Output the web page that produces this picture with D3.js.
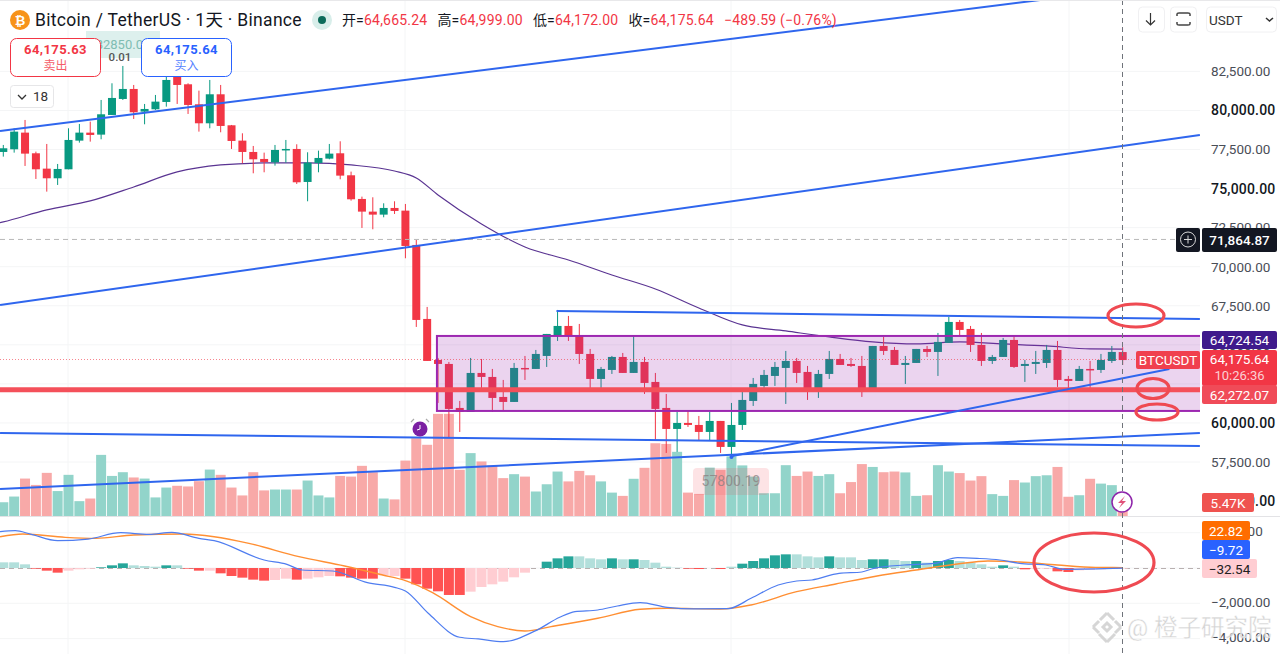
<!DOCTYPE html>
<html><head><meta charset="utf-8">
<script src="https://cdnjs.cloudflare.com/ajax/libs/d3/7.8.5/d3.min.js"></script>
<style>html,body{margin:0;padding:0;background:#fff;overflow:hidden}svg{display:block}text{font-family:Roboto,"Noto Sans CJK SC",sans-serif}</style>
</head><body><svg id="c" width="1280" height="654"></svg>
<script>
const opens=[77344,77515,78581,77259,76277,75659,76235,78069,78581,78453,
79712,80736,81376,79925,80075,80544,82165,81675,80395,79179,
81035,79051,78069,77344,76896,76683,77451,77536,75424,76640,
76917,77259,75851,74336,73525,73333,73760,73589,71392,66656,
64032,63776,60960,60704,63200,62944,61664,61344,63520,63456,
64288,65568,66208,65568,64416,62816,63392,64224,63200,63904,
62624,60960,59616,60000,59872,59424,60128,58464,59872,61408,
62368,63008,63520,63968,63264,62112,63136,64096,63776,63648,
62176,64928,64672,63712,63840,64736,64544,65120,66464,66016,
64992,63968,64224,65312,63648,63776,63840,64672,62816,62688,
63456,63392,63968,64537];
const closes=[77579,78645,77237,76235,75659,76256,78112,78581,78432,79755,
80800,81376,79883,80096,80565,81952,81632,80352,79179,81035,
79008,78048,77344,76875,76704,77472,77536,75403,76661,76960,
77237,75829,74315,73525,73333,73760,73568,71328,66592,63968,
63776,60896,60704,63200,62944,61600,61344,63520,63456,64416,
65696,66208,65568,64416,62816,63456,64224,63200,63904,62560,
60896,59616,60000,59872,59424,60128,58464,59872,61472,62496,
63072,63584,63968,63200,62112,63136,64096,63712,63648,62176,
64928,64608,63712,63840,64736,64544,65184,66464,65952,64992,
63968,64224,65312,63584,63776,63904,64672,62752,62688,63456,
63392,64032,64544,64025];
const highs=[77792,78859,79392,77365,77856,76576,78859,79136,79285,80672,
81739,82848,81632,80416,80992,82272,82272,81739,81269,81952,
81632,79072,78539,77728,77301,77792,78112,77835,77323,77429,
77856,78027,76085,74485,74443,74059,74187,74016,71712,67424,
64160,63904,61408,64160,64096,63456,62752,63840,64288,64672,
65696,67232,66848,66336,64736,63584,64288,64480,65568,64224,
63200,61856,60704,60768,60448,60704,60128,61280,62112,62880,
63392,63904,64608,64160,63648,63392,64608,64416,64160,64288,
64928,65504,64864,64288,64736,64928,65760,66784,66592,66208,
65760,64352,65440,65568,64032,64608,64992,65248,63008,63648,
63968,64416,64928,64850];
const lows=[77045,77301,76448,75616,74805,75232,76235,77941,78005,78155,
79712,80672,79456,79115,80032,80245,80416,79776,78645,78859,
78603,77536,76619,75979,76043,76469,76661,75296,74187,76043,
76875,75595,74229,72480,72395,73163,73376,70539,66144,63968,
61280,59040,59424,60704,62240,60704,60768,61344,62752,63456,
63584,65248,65248,63776,62112,62176,63136,63200,63200,61856,
58912,58080,58144,59744,58848,58848,58080,57824,59552,61088,
62240,62368,61216,62560,61472,61600,62816,63712,63584,61664,
62176,64352,63712,62496,63840,64224,63008,65120,65568,64544,
63648,63776,64224,63520,62624,63136,63520,62304,62176,62688,
62240,63200,63840,63710];
const volumes=[6.5,9.1,17.3,14.4,19.9,11.6,19.0,7.0,8.2,28.1,
18.5,20.2,17.8,17.3,8.7,13.2,14.0,13.7,16.1,21.4,
19.0,13.2,9.6,20.2,11.9,12.3,12.3,12.3,16.4,9.6,
8.7,18.5,18.2,23.1,20.2,8.2,7.8,25.5,35.7,32.7,
46.8,46.8,21.3,28.9,25.1,23.3,17.5,19.3,18.2,11.4,
14.7,20.5,16.0,20.8,18.8,16.0,10.9,9.4,17.2,22.2,
33.4,33.1,29.5,10.9,10.3,22.3,21.3,27.4,23.3,18.2,
10.6,10.6,23.4,18.5,20.5,18.5,19.3,10.6,15.7,23.9,
22.6,20.2,20.5,20.1,9.4,9.7,23.4,20.5,19.8,16.4,
18.4,10.2,9.4,16.6,15.5,18.4,18.8,22.6,9.0,9.7,
17.2,15.0,14.3,5.47];
const maIndex=[-1,0,4,8,12,16,20,24,28,32,36,38,40,44,48,52,56,60,64,68,72,76,80,84,88,92,96,100,103];
const maValues=[72700,72864,73632,74208,75104,76064,76512,76640,76640,76512,76128,75680,74592,72736,71264,70432,69472,68576,67360,66272,65888,65504,65184,65056,65184,65056,64928,64736,64724.54];
const macdIndex=[-0.3,1.1,2.5,5,7.8,10.8,13.4,15.5,18,19.4,24,26.1,27.5,30.3,33.5,36,37,39.1,42,43.7,46,49,51.2,52.6,54.7,56.5,58.6,61.1,63.5,66.7,68.8,71.3,73,74.4,76.9,79,80.1,82.9,85.7,87.8,89.6,91.7,93.5,95.9,97.7,103];
const macdValues=[2056,2113,1924,1547,1641,2000,1906,2019,1679,1547,452,207,-114,-170,-831,-1095,-1302,-2567,-3925,-4020,-4171,-3548,-2793,-2472,-2378,-2152,-1963,-2227,-2321,-2303,-1718,-963,-736,-680,-302,-227,-19,170,264,585,547,453,264,170,-76,-9.72];
const signalIndex=[-0.3,1.8,5.7,8.5,12,16.6,19.4,22.6,27.2,31.4,34.9,37,39.5,43,45.5,48,50.4,54.7,58.6,61.1,66,68.8,73,76.6,80.4,84,87.8,90.6,93.5,97,100.5,103];
const signalValues=[1773,1924,1736,1679,1868,1924,1773,1396,641,113,-397,-717,-1397,-2755,-3321,-3567,-3321,-2850,-2340,-2284,-2321,-2095,-1340,-906,-453,-114,226,396,339,170,37,22.82];
const histValues=[321,321,208,-38,-151,-264,-151,-75,-38,38,151,264,151,113,75,151,151,-38,-151,-151,-302,-453,-547,-660,-717,-679,-604,-660,-604,-528,-453,-472,-547,-604,-604,-415,-453,-604,-925,-1170,-1321,-1528,-1528,-1340,-1076,-925,-774,-528,-264,0,358,547,660,660,547,491,547,491,491,453,302,75,19,-38,-57,0,-57,75,245,396,547,717,774,774,660,604,660,604,604,453,491,491,453,396,396,302,396,453,396,302,208,75,151,75,-75,-38,-38,-189,-226,-132,-113,-75,-38,-32.54];
const histStrong=[0,0,0,1,1,1,0,0,0,1,1,1,0,0,0,1,0,1,1,0,1,1,1,1,1,0,0,1,0,0,0,1,1,1,1,0,0,1,1,1,1,1,1,0,0,0,0,0,0,1,1,1,1,0,0,0,1,0,1,0,0,0,0,1,1,0,1,0,1,1,1,1,1,0,0,0,1,0,0,0,1,1,0,0,1,0,1,1,0,0,0,0,1,0,1,0,0,1,1,0,0,0,0,0];
const priceTicks=[82500,80000,77500,75000,72500,70000,67500,65000,62500,60000,57500,55000];
const strongTicks=[80000,75000,60000,55000];
const macdTicks=[2000,-2000,-4000];
const supportLevel=62130, dottedLevel=64060, alertLevel=71744;
const boxTop=65568, boxBottom=60768, boxStart=39.9, boxEnd=112;
const trendLines=[[-0.3,78688,95.4,87072],[-0.3,67552,110.1,78432],[50.9,67168,110.1,66656],[-0.3,59360,110.1,58528],[-0.3,55776,110.1,59360],[67.1,57888,107.3,63456]];
const headerPairs=[["开=","64,665.24"],["高=","64,999.00"],["低=","64,172.00"],["收=","64,175.64"]];

const svg=d3.select("#c");
const RED="#f23645",GRN="#089981",BLUE="#2f66ee";
const x=d3.scaleLinear().domain([0,103]).range([3.3,1122.7]);
const y=d3.scaleLinear().domain([57500,82500]).range([462,71.4]);
const yVol=d3.scaleLinear().domain([0,100]).range([516.5,297.2]);
const yM=d3.scaleLinear().domain([-4000,2000]).range([638.6,532.7]);
const defs=svg.append("defs");
defs.append("clipPath").attr("id","main").append("rect").attr("width",1200).attr("height",516);
defs.append("clipPath").attr("id","macd").append("rect").attr("y",517).attr("width",1200).attr("height",137);

// grid
const grid=svg.append("g").attr("stroke","#f4f5f6").attr("stroke-width",1);
priceTicks.slice(0,-1).forEach(t=>grid.append("line").attr("x1",0).attr("x2",1200).attr("y1",y(t)).attr("y2",y(t)));
[2000,0,-2000,-4000].forEach(t=>grid.append("line").attr("x1",0).attr("x2",1200).attr("y1",yM(t)).attr("y2",yM(t)));
[68,405,731,1069].forEach(v=>grid.append("line").attr("x1",v).attr("x2",v).attr("y1",0).attr("y2",654));

const main=svg.append("g").attr("clip-path","url(#main)");
const idx=d3.range(opens.length);
// volume
main.append("g").selectAll("rect").data(idx).join("rect")
 .attr("x",i=>x(i)-5).attr("width",10).attr("y",i=>yVol(volumes[i])).attr("height",i=>yVol(0)-yVol(volumes[i]))
 .attr("fill",i=>closes[i]>=opens[i]?"#92d4ca":"#f8a9a8");
// faded low label
main.append("rect").attr("x",693).attr("y",468).attr("width",76).attr("height",27).attr("rx",4).attr("fill",RED).attr("opacity",.14);
main.append("text").attr("x",731).attr("y",486).attr("text-anchor","middle").attr("font-size",14).attr("fill","#8a7f80").attr("opacity",.75).text("57800.19");
// MA
main.append("path").attr("fill","none").attr("stroke","#5a3492").attr("stroke-width",1.2)
 .attr("d",d3.line().curve(d3.curveMonotoneX).x((d,i)=>x(maIndex[i])).y(d=>y(d))(maValues));
// candles
const cg=main.append("g");
cg.selectAll("line").data(idx).join("line").attr("x1",i=>x(i)).attr("x2",i=>x(i)).attr("y1",i=>y(highs[i])).attr("y2",i=>y(lows[i]))
 .attr("stroke",i=>closes[i]>=opens[i]?GRN:RED).attr("stroke-width",1);
cg.selectAll("rect").data(idx).join("rect").attr("x",i=>x(i)-4).attr("width",8)
 .attr("y",i=>y(Math.max(opens[i],closes[i]))).attr("height",i=>Math.max(1.5,Math.abs(y(opens[i])-y(closes[i]))))
 .attr("fill",i=>closes[i]>=opens[i]?GRN:RED);
// box
main.append("rect").attr("x",x(boxStart)).attr("width",x(boxEnd)-x(boxStart)).attr("y",y(boxTop)).attr("height",y(boxBottom)-y(boxTop))
 .attr("fill","#9c27b0").attr("fill-opacity",.2).attr("stroke","#9c27b0").attr("stroke-width",2);
// support
main.append("line").attr("x1",0).attr("x2",1200).attr("y1",y(supportLevel)).attr("y2",y(supportLevel)).attr("stroke","#f4505a").attr("stroke-width",5);
// dotted current
main.append("line").attr("x1",0).attr("x2",1200).attr("y1",y(dottedLevel)).attr("y2",y(dottedLevel)).attr("stroke",RED).attr("stroke-opacity",.6).attr("stroke-dasharray","1 2");
// alert dashed
main.append("line").attr("x1",0).attr("x2",1200).attr("y1",y(alertLevel)).attr("y2",y(alertLevel)).attr("stroke","#b8b8b8").attr("stroke-dasharray","5 4");
// trend lines
main.append("g").selectAll("line").data(trendLines).join("line")
 .attr("x1",d=>x(d[0])).attr("y1",d=>y(d[1])).attr("x2",d=>x(d[2])).attr("y2",d=>y(d[3]))
 .attr("stroke",BLUE).attr("stroke-width",2);
main.append("circle").attr("cx",x(67)).attr("cy",y(57824)).attr("r",2).attr("fill",BLUE);

// MACD
const mp=svg.append("g").attr("clip-path","url(#macd)");
mp.append("line").attr("x1",0).attr("x2",1200).attr("y1",yM(0)+.5).attr("y2",yM(0)+.5).attr("stroke","#b8b0b0").attr("stroke-dasharray","5 4");
mp.append("g").selectAll("rect").data(histValues).join("rect")
 .attr("x",(d,i)=>x(i)-5).attr("width",10)
 .attr("y",d=>Math.min(yM(d),yM(0))).attr("height",d=>Math.abs(yM(d)-yM(0)))
 .attr("fill",(d,i)=>d>=0?(histStrong[i]?"#26a69a":"#b2dfdb"):(histStrong[i]?"#ff5252":"#ffcdd2"));
const ln=(X,V)=>d3.line().curve(d3.curveMonotoneX).x((d,i)=>x(X[i])).y(d=>yM(d))(V);
mp.append("path").attr("fill","none").attr("stroke","#ff8f33").attr("stroke-width",1.4).attr("d",ln(signalIndex,signalValues));
mp.append("path").attr("fill","none").attr("stroke","#4f7df0").attr("stroke-width",1.2).attr("d",ln(macdIndex,macdValues));

// pane separator
svg.append("line").attr("x1",0).attr("x2",1280).attr("y1",516.5).attr("y2",516.5).attr("stroke","#e3e3e6");
// crosshair
svg.append("line").attr("x1",1122.5).attr("x2",1122.5).attr("y1",0).attr("y2",654).attr("stroke","#6f737a").attr("stroke-dasharray","5 4");

// red hand-drawn ellipses
const ell=svg.append("g").attr("fill","none").attr("stroke","#ef4a52").attr("stroke-width",3.2);
[[1136,315.5,28,11.5],[1153,388.5,16,10],[1157,412,21,8],[1094,562.5,60,29.5]].forEach(e=>
 ell.append("ellipse").attr("cx",e[0]).attr("cy",e[1]).attr("rx",e[2]).attr("ry",e[3]));

// alarm icon
const al=svg.append("g").attr("transform","translate(420,429)");
al.append("circle").attr("r",7.5).attr("fill","#7b1fa2");
al.append("path").attr("d","M0-4V0L-3 1").attr("stroke","#fff").attr("fill","none");
al.append("path").attr("d","M-9-7L-6-10M9-7L6-10").attr("stroke","#aaa").attr("stroke-width",1.2);
// bolt icon
const bo=svg.append("g").attr("transform","translate(1122,502)");
bo.append("circle").attr("r",10).attr("fill","#fff").attr("stroke","#8e24aa").attr("stroke-width",1.5);
bo.append("path").attr("d","M3-6L-4 1H0L-3 6L4-1H0Z").attr("fill","#e0527a");

// axes
const ax=svg.append("g").attr("transform","translate(1200,0)")
 .call(d3.axisRight(y).tickValues(priceTicks).tickSize(0).tickPadding(11).tickFormat(d3.format(",.2f")));
ax.select(".domain").remove();
ax.selectAll("text").attr("font-size",d=>strongTicks.includes(d)?14:13.5).attr("fill",d=>strongTicks.includes(d)?"#131722":"#4a4e57").attr("font-weight",d=>strongTicks.includes(d)?500:400).attr("letter-spacing",d=>strongTicks.includes(d)?.2:0);
const ax2=svg.append("g").attr("transform","translate(1200,0)")
 .call(d3.axisRight(yM).tickValues(macdTicks.slice(1)).tickSize(0).tickPadding(11).tickFormat(d=>d3.format(",.2f")(d).replace("-","\u2212")));
ax2.select(".domain").remove();
ax2.selectAll("text").attr("font-size",13.5).attr("fill","#4a4e57").attr("dy","0.22em");
const ax3=svg.append("g").attr("transform","translate(1200,0)")
 .call(d3.axisRight(yM).tickValues(macdTicks.slice(0,1)).tickSize(0).tickPadding(11).tickFormat(d3.format(",.2f")));
ax3.select(".domain").remove();
ax3.selectAll("text").attr("font-size",13.5).attr("fill","#4a4e57").attr("dy","0.2em");

// right tags
function tag(xx,yy,w,h,bg,t,fg,fs,extra){
 svg.append("rect").attr("x",xx).attr("y",yy).attr("width",w).attr("height",h).attr("rx",2).attr("fill",bg);
 svg.append("text").attr("x",xx+w/2).attr("y",yy+h/2+5).attr("text-anchor","middle").attr("font-size",fs||13.5).attr("fill",fg||"#fff").attr("font-weight",extra||400).text(t);
}
svg.append("rect").attr("x",1176).attr("y",228).attr("width",24).attr("height",24).attr("rx",2).attr("fill","#131722");
svg.append("circle").attr("cx",1188).attr("cy",239.5).attr("r",7.5).attr("fill","none").attr("stroke","#d8d8d8");
svg.append("path").attr("d","M1184 239.5H1192M1188 235.5V243.5").attr("stroke","#d8d8d8");
tag(1202,228,75,24,"#131722","71,864.87","#fff",13.5,500);
tag(1202,331,75,18,"#3f1a8c","64,724.54");
svg.append("rect").attr("x",1202).attr("y",350).attr("width",75).attr("height",36).attr("rx",2).attr("fill",RED);
svg.append("text").attr("x",1239.5).attr("y",364).attr("text-anchor","middle").attr("font-size",13.5).attr("fill","#fff").text("64,175.64");
svg.append("text").attr("x",1239.5).attr("y",380).attr("text-anchor","middle").attr("font-size",13).attr("fill","#fbd0d4").text("10:26:36");
tag(1202,385,75,19,"#f04b58","62,272.07");
tag(1136,351,64,18,"#f0404e","BTCUSDT","#fff",13.5);
tag(1202,493,52,19,"#ef5350","5.47K");
tag(1202,521,48,19,"#ff6d00","22.82");
tag(1202,540,48,19,"#2962ff","\u22129.72");
tag(1202,559,55,19,"#ffcdd2","\u221232.54","#222");

// header
const hd=svg.append("g");
hd.append("line").attr("x1",0).attr("x2",1280).attr("y1",.5).attr("y2",.5).attr("stroke","#e8e8ea");
hd.append("circle").attr("cx",20).attr("cy",20).attr("r",10).attr("fill","#f7931a");
hd.append("text").attr("x",20).attr("y",25).attr("text-anchor","middle").attr("font-size",13).attr("font-weight",700).attr("fill","#fff").text("\u20BF");
hd.append("text").attr("x",35).attr("y",26).attr("font-size",17.5).attr("fill","#131722").attr("letter-spacing",.3).text("Bitcoin / TetherUS \u00B7 1\u5929 \u00B7 Binance");
hd.append("circle").attr("cx",322).attr("cy",20).attr("r",10).attr("fill","#d8eeea");
hd.append("circle").attr("cx",322).attr("cy",20).attr("r",4).attr("fill","#0b6b5a");
let hx=342;
headerPairs.forEach(p=>{
 hd.append("text").attr("x",hx).attr("y",25).attr("font-size",14).attr("fill","#131722").text(p[0]);
 hd.append("text").attr("x",hx+22).attr("y",25).attr("font-size",14).attr("fill",RED).attr("letter-spacing",.2).text(p[1]);
 hx+=95.5;
});
hd.append("text").attr("x",724).attr("y",25).attr("font-size",14).attr("fill",RED).attr("letter-spacing",.2).text("\u2212489.59 (\u22120.76%)");

// buy/sell area
svg.append("rect").attr("x",86).attr("y",31).attr("width",74).attr("height",27).attr("fill","#cfeae5").attr("opacity",.7);
svg.append("text").attr("x",123).attr("y",49).attr("text-anchor","middle").attr("font-size",13).attr("fill","#7fbdb2").text("82850.00");
svg.append("text").attr("x",120).attr("y",61).attr("text-anchor","middle").attr("font-size",11.5).attr("font-weight",500).attr("fill","#555").text("0.01");
function bs(xx,col,val,lab){
 svg.append("rect").attr("x",xx).attr("y",38.5).attr("width",90).attr("height",38).attr("rx",6).attr("fill","#fff").attr("stroke",col);
 svg.append("text").attr("x",xx+45).attr("y",54).attr("text-anchor","middle").attr("font-size",13).attr("font-weight",700).attr("fill",col).attr("letter-spacing",.4).text(val);
 svg.append("text").attr("x",xx+45).attr("y",70).attr("text-anchor","middle").attr("font-size",12).attr("fill",col).attr("opacity",.8).text(lab);
}
bs(10.5,RED,"64,175.63","\u5356\u51FA");
bs(141.5,"#2962ff","64,175.64","\u4E70\u5165");
svg.append("rect").attr("x",10.5).attr("y",85.5).attr("width",43).attr("height",22).attr("rx",3).attr("fill","#fff").attr("stroke","#e6e6e8");
svg.append("path").attr("d","M18 95L22 99L26 95").attr("fill","none").attr("stroke","#333").attr("stroke-width",1.3);
svg.append("text").attr("x",33).attr("y",101).attr("font-size",13.5).attr("fill","#333").text("18");

// toolbar
function btn(xx,w){svg.append("rect").attr("x",xx).attr("y",7).attr("width",w).attr("height",25).attr("rx",4).attr("fill","#fff").attr("stroke","#f0f0f2");}
btn(1138.5,26);btn(1170.5,26);btn(1206.5,70);
svg.append("path").attr("d","M1150.5 13V25M1146 20.5L1150.5 25L1155 20.5").attr("fill","none").attr("stroke","#333").attr("stroke-width",1.2);
svg.append("path").attr("d","M1177 16V14Q1177 13 1179 13H1188Q1190 13 1190 14V16M1177 22V24Q1177 25 1179 25H1188Q1190 25 1190 24V22").attr("fill","none").attr("stroke","#444").attr("stroke-width",1.5);
svg.append("text").attr("x",1209).attr("y",25).attr("font-size",13.5).attr("fill","#333").text("USDT");
svg.append("path").attr("d","M1266 18L1269.5 21L1273 18").attr("fill","none").attr("stroke","#333").attr("stroke-width",1.5);

// watermark
const wm=svg.append("g").attr("opacity",.9);
wm.append("g").attr("transform","translate(1107,627)").attr("fill","none").attr("stroke","#d2d2d2").attr("stroke-width",3).call(g=>{
 g.append("path").attr("d","M0-14L7-7M0-14L-7-7M-14 0L-8-6M-14 0L-8 6M14 0L8-6M14 0L8 6M0 15L8 7M0 15L-8 7M-4 0L0-4L4 0L0 4Z");
});
wm.append("text").attr("x",1127).attr("y",636).attr("font-size",23.5).attr("fill","#cfcfcf").attr("stroke","#fff").attr("stroke-width",.4).text("@ \u6A59\u5B50\u7814\u7A76\u9662");
</script></body></html>
